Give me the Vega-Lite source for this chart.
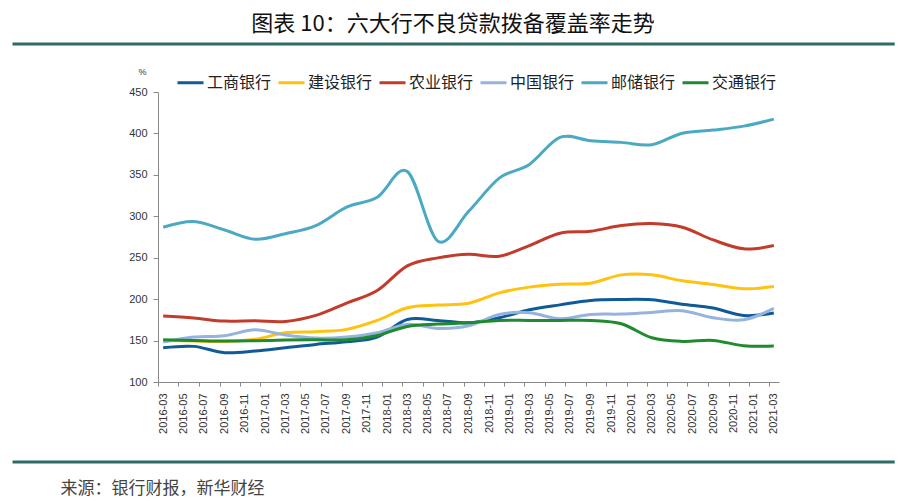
{
  "$schema": "https://vega.github.io/schema/vega-lite/v6.json",
  "width": 621,
  "height": 290,
  "autosize": {"type": "none"},
  "padding": {"left": 158, "top": 92, "right": 127, "bottom": 119},
  "background": "white",
  "title": {
    "text": "图表 10：六大行不良贷款拨备覆盖率走势",
    "anchor": "middle",
    "dx": -15.5,
    "offset": 6,
    "fontSize": 22,
    "font": "Noto Sans CJK SC",
    "fontWeight": "normal",
    "color": "#111111"
  },
  "config": {"view": {"stroke": null}, "font": "Liberation Sans"},
  "layer": [
    {
      "data": {
        "values": [
          {"date": "2016-03", "工商银行": 141.4, "建设银行": 150.2, "农业银行": 179.6, "中国银行": 148.2, "邮储银行": 286.8, "交通银行": 151.0},
          {"date": "2016-06", "工商银行": 143.0, "建设银行": 149.4, "农业银行": 177.2, "中国银行": 154.3, "邮储银行": 293.6, "交通银行": 150.2},
          {"date": "2016-09", "工商银行": 135.4, "建设银行": 149.0, "农业银行": 173.5, "中国银行": 155.9, "邮储银行": 283.5, "交通银行": 149.4},
          {"date": "2016-12", "工商银行": 137.4, "建设银行": 151.5, "农业银行": 173.9, "中国银行": 163.1, "邮储银行": 272.3, "交通银行": 149.8},
          {"date": "2017-03", "工商银行": 141.4, "建设银行": 159.5, "农业银行": 173.1, "中国银行": 156.7, "邮储银行": 279.0, "交通银行": 150.6},
          {"date": "2017-06", "工商银行": 145.4, "建设银行": 160.7, "农业银行": 180.4, "中国银行": 153.0, "邮储银行": 288.8, "交通银行": 151.0},
          {"date": "2017-09", "工商银行": 148.6, "建设银行": 163.5, "农业银行": 195.2, "中国银行": 154.3, "邮储银行": 311.0, "交通银行": 151.0},
          {"date": "2017-12", "工商银行": 154.2, "建设银行": 174.3, "农业银行": 210.4, "中国银行": 159.5, "邮储银行": 323.0, "交通银行": 156.2},
          {"date": "2018-03", "工商银行": 175.5, "建设银行": 189.6, "农业银行": 240.2, "中国银行": 169.5, "邮储银行": 354.0, "交通银行": 167.1},
          {"date": "2018-06", "工商银行": 174.3, "建设银行": 192.8, "农业银行": 249.8, "中国银行": 164.7, "邮储银行": 270.0, "交通银行": 169.9},
          {"date": "2018-09", "工商银行": 171.5, "建设银行": 195.0, "农业银行": 254.2, "中国银行": 167.9, "邮储银行": 306.0, "交通银行": 171.5},
          {"date": "2018-12", "工商银行": 177.5, "建设银行": 207.6, "农业银行": 251.8, "中国银行": 181.6, "邮储银行": 346.0, "交通银行": 174.3},
          {"date": "2019-03", "工商银行": 187.1, "建设银行": 214.5, "农业银行": 264.7, "中国银行": 183.6, "邮储银行": 362.6, "交通银行": 174.3},
          {"date": "2019-06", "工商银行": 193.1, "建设银行": 218.1, "农业银行": 279.6, "中国银行": 176.3, "邮储银行": 395.2, "交通银行": 174.3},
          {"date": "2019-09", "工商银行": 198.4, "建设银行": 219.3, "农业银行": 281.9, "中国银行": 181.6, "邮储银行": 391.2, "交通银行": 174.3},
          {"date": "2019-12", "工商银行": 199.6, "建设银行": 229.3, "农业银行": 288.8, "中国银行": 182.0, "邮储银行": 389.2, "交通银行": 170.3},
          {"date": "2020-03", "工商银行": 199.2, "建设银行": 229.3, "农业银行": 291.2, "中国银行": 184.0, "邮储银行": 386.4, "交通银行": 153.4},
          {"date": "2020-06", "工商银行": 193.9, "建设银行": 222.1, "农业银行": 286.8, "中国银行": 186.0, "邮储银行": 400.3, "交通银行": 149.0},
          {"date": "2020-09", "工商银行": 189.2, "建设银行": 217.7, "农业银行": 271.5, "中国银行": 177.5, "邮储银行": 404.0, "交通银行": 150.2},
          {"date": "2020-12", "工商银行": 180.3, "建设银行": 212.5, "农业银行": 260.7, "中国银行": 175.1, "邮储银行": 408.8, "交通银行": 143.8},
          {"date": "2021-03", "工商银行": 183.2, "建设银行": 215.3, "农业银行": 264.7, "中国银行": 188.8, "邮储银行": 417.3, "交通银行": 143.4}
        ],
        "format": {"parse": {"date": "date:'%Y-%m'"}}
      },
      "transform": [
        {"fold": ["工商银行", "建设银行", "农业银行", "中国银行", "邮储银行", "交通银行"], "as": ["bank", "value"]}
      ],
      "mark": {"type": "line", "interpolate": "cardinal", "strokeWidth": 3},
      "encoding": {
        "x": {
          "field": "date",
          "type": "temporal",
          "timeUnit": "yearmonth",
          "bandPosition": 0.5,
          "scale": {
            "domain": [{"year": 2016, "month": 3, "date": 1}, {"year": 2021, "month": 4, "date": 1}],
            "nice": false
          },
          "axis": {
            "format": "%Y-%m",
            "tickCount": {"interval": "month", "step": 2},
            "labelAngle": 270,
            "labelAlign": "right",
            "labelBaseline": "middle",
            "labelOffset": 5,
            "labelPadding": 7,
            "labelFontSize": 11,
            "labelColor": "#333333",
            "labelFont": "Liberation Sans",
            "labelFlush": false,
            "labelOverlap": false,
            "tickSize": 4,
            "tickColor": "#888888",
            "domainColor": "#888888",
            "grid": false,
            "title": "来源：银行财报，新华财经",
            "titleX": -98,
            "titleY": 106,
            "titleAlign": "left",
            "titleAnchor": "start",
            "titleBaseline": "middle",
            "titleFont": "Noto Sans CJK SC",
            "titleFontSize": 17,
            "titleFontWeight": "normal",
            "titleColor": "#444444"
          }
        },
        "y": {
          "field": "value",
          "type": "quantitative",
          "scale": {"domain": [100, 450], "nice": false, "zero": false},
          "axis": {
            "values": [100, 150, 200, 250, 300, 350, 400, 450],
            "labelFontSize": 11,
            "labelColor": "#333333",
            "labelFont": "Liberation Sans",
            "labelPadding": 6,
            "tickSize": 5,
            "tickColor": "#888888",
            "domainColor": "#888888",
            "grid": false,
            "title": "%",
            "titleAngle": 0,
            "titleX": -16,
            "titleY": -21,
            "titleFontSize": 9,
            "titleFontWeight": "normal",
            "titleColor": "#333333",
            "titleAlign": "center",
            "titleBaseline": "middle"
          }
        },
        "color": {
          "field": "bank",
          "type": "nominal",
          "scale": {
            "domain": ["工商银行", "建设银行", "农业银行", "中国银行", "邮储银行", "交通银行"],
            "range": ["#0F5A97", "#FFC20E", "#C23B2B", "#95B3DE", "#4BA9C4", "#1E8B2E"]
          },
          "legend": {
            "orient": "none",
            "legendX": 18,
            "legendY": -24,
            "direction": "horizontal",
            "title": null,
            "symbolType": "stroke",
            "symbolStrokeWidth": 3,
            "symbolSize": 676,
            "labelFont": "Noto Sans CJK SC",
            "labelFontSize": 16,
            "labelColor": "#222222",
            "labelOffset": 2,
            "columnPadding": 0,
            "padding": 0
          }
        }
      }
    },
    {
      "data": {"values": [{}]},
      "mark": {"type": "rule", "color": "#2D6B68", "strokeWidth": 3},
      "encoding": {
        "x": {"datum": {"year": 2014, "month": 12, "date": 22}, "type": "temporal"},
        "x2": {"datum": {"year": 2022, "month": 3, "date": 13}},
        "y": {"datum": 508, "type": "quantitative"}
      }
    },
    {
      "data": {"values": [{}]},
      "mark": {"type": "rule", "color": "#2D6B68", "strokeWidth": 3},
      "encoding": {
        "x": {"datum": {"year": 2014, "month": 12, "date": 22}, "type": "temporal"},
        "x2": {"datum": {"year": 2022, "month": 3, "date": 13}},
        "y": {"datum": 3.5, "type": "quantitative"}
      }
    }
  ]
}
